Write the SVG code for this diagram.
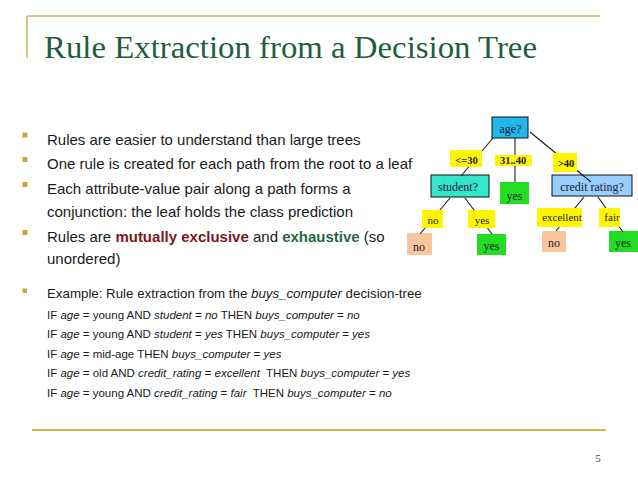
<svg xmlns="http://www.w3.org/2000/svg" width="638" height="479" viewBox="0 0 638 479">
<style>
  .rule { stroke: #D2B45E; stroke-width: 1.5; fill: none; }
  .foot { stroke: #E0B040; stroke-width: 2; fill: none; }
  .title { font-family: "Liberation Serif", serif; font-size: 32px; fill: #1E5E3C; }
  .bul { fill: #CDA63A; }
  .txt { font-family: "Liberation Sans", Arial, sans-serif; font-size: 15px; fill: #1a1a1a; }
  .ex { font-family: "Liberation Sans", Arial, sans-serif; font-size: 13.3px; fill: #1a1a1a; }
  .ifl { font-family: "Liberation Sans", Arial, sans-serif; font-size: 11.5px; fill: #1a1a1a; white-space: pre; }
  .i { font-style: italic; }
  .red { font-weight: bold; fill: #801818; }
  .grn { font-weight: bold; fill: #1F6B3F; }
  .box { stroke: #111; stroke-width: 1; }
  .lbl { fill: #FFF500; }
  .leafy { fill: #22DD22; }
  .leafn { fill: #F8C59C; }
  .t { font-family: "Liberation Serif", serif; fill: #1c2230; text-anchor: middle; }
  .tn { font-size: 12px; }
  .tl { font-size: 11px; }
  .tb { font-size: 10.5px; font-weight: bold; }
  .edge { stroke: #1a1a1a; stroke-width: 1.1; fill: none; }
  .pg { font-family: "Liberation Serif", serif; font-size: 11px; fill: #444; text-anchor: middle; }
</style>

<g id="frame">
  <path class="rule" d="M27 16 H600 M27 16 V58"/>
  <path class="foot" d="M32 430 H606"/>
</g>

<text class="title" x="44" y="58" textLength="493" lengthAdjust="spacingAndGlyphs">Rule Extraction from a Decision Tree</text>

<g id="bullets">
  <rect class="bul" x="22.5" y="132.5" width="5" height="5"/>
  <text class="txt" x="47" y="144.5">Rules are easier to understand than large trees</text>
  <rect class="bul" x="22.5" y="157" width="5" height="5"/>
  <text class="txt" x="47" y="169">One rule is created for each path from the root to a leaf</text>
  <rect class="bul" x="22.5" y="182" width="5" height="5"/>
  <text class="txt" x="47" y="194">Each attribute-value pair along a path forms a</text>
  <text class="txt" x="47" y="216.5">conjunction: the leaf holds the class prediction</text>
  <rect class="bul" x="22.5" y="230" width="5" height="5"/>
  <text class="txt" x="47" y="242">Rules are <tspan class="red">mutually exclusive</tspan> and <tspan class="grn">exhaustive</tspan> (so</text>
  <text class="txt" x="47" y="263.5">unordered)</text>
</g>

<g id="example">
  <rect class="bul" x="22.5" y="288.5" width="4.5" height="4.5"/>
  <text class="ex" x="47" y="297.5">Example: Rule extraction from the <tspan class="i">buys_computer</tspan> decision-tree</text>
  <text class="ifl" x="47" y="318.5">IF <tspan class="i">age</tspan> = young AND <tspan class="i">student</tspan> = <tspan class="i">no</tspan> THEN <tspan class="i">buys_computer</tspan> = <tspan class="i">no</tspan></text>
  <text class="ifl" x="47" y="338">IF <tspan class="i">age</tspan> = young AND <tspan class="i">student</tspan> = <tspan class="i">yes</tspan> THEN <tspan class="i">buys_computer</tspan> = <tspan class="i">yes</tspan></text>
  <text class="ifl" x="47" y="357.5">IF <tspan class="i">age</tspan> = mid-age THEN <tspan class="i">buys_computer</tspan> = <tspan class="i">yes</tspan></text>
  <text class="ifl" x="47" y="377">IF <tspan class="i">age</tspan> = old AND <tspan class="i">credit_rating</tspan> = <tspan class="i">excellent</tspan>  THEN <tspan class="i">buys_computer</tspan> = <tspan class="i">yes</tspan></text>
  <text class="ifl" x="47" y="397">IF <tspan class="i">age</tspan> = young AND <tspan class="i">credit_rating</tspan> = <tspan class="i">fair</tspan>  THEN <tspan class="i">buys_computer</tspan> = <tspan class="i">no</tspan></text>
</g>

<g id="node-age">
  <rect class="box" x="492" y="117" width="36" height="21" fill="#22B8EE"/>
  <text class="t tn" x="510.5" y="133">age?</text>
</g>
<g id="node-student">
  <rect class="box" x="431" y="175" width="58" height="22" fill="#33E6CC"/>
  <text class="t tn" x="458" y="191">student?</text>
</g>
<g id="node-credit">
  <rect class="box" x="552" y="175" width="80" height="21" fill="#99CCFF"/>
  <text class="t tn" x="592" y="191">credit rating?</text>
</g>
<g id="leaf-mid-yes">
  <rect class="leafy" x="500" y="182" width="29" height="22"/>
  <text class="t tn" x="514.5" y="200">yes</text>
</g>
<g id="leaf-student-no">
  <rect class="leafn" x="407" y="233" width="25" height="22"/>
  <text class="t tn" x="419" y="251">no</text>
</g>
<g id="leaf-student-yes">
  <rect class="leafy" x="477" y="234" width="29" height="21"/>
  <text class="t tn" x="491.5" y="250">yes</text>
</g>
<g id="leaf-excellent-no">
  <rect class="leafn" x="542" y="231" width="24" height="21"/>
  <text class="t tn" x="554" y="247">no</text>
</g>
<g id="leaf-fair-yes">
  <rect class="leafy" x="609" y="231" width="29" height="21"/>
  <text class="t tn" x="623" y="247">yes</text>
</g>

<g id="connectors">
  <line class="edge" x1="493" y1="138" x2="461" y2="176"/>
  <line class="edge" x1="515" y1="138" x2="515" y2="182"/>
  <line class="edge" x1="530" y1="132" x2="591" y2="182"/>
  <line class="edge" x1="450" y1="198" x2="420" y2="234"/>
  <line class="edge" x1="465" y1="198" x2="492" y2="234"/>
  <line class="edge" x1="584" y1="197" x2="556" y2="231"/>
  <line class="edge" x1="598" y1="197" x2="623" y2="232"/>
</g>

<g id="label-le30">
  <rect class="lbl" x="450" y="150" width="32" height="17"/>
  <text class="t tb" x="466.5" y="163.5">&lt;=30</text>
</g>
<g id="label-31-40">
  <rect class="lbl" x="495" y="155" width="37" height="11"/>
  <text class="t tb" x="513" y="164">31..40</text>
</g>
<g id="label-gt40">
  <rect class="lbl" x="553" y="153" width="24" height="19"/>
  <text class="t tb" x="566" y="166.5">&gt;40</text>
</g>
<g id="label-no">
  <rect class="lbl" x="422" y="210" width="21" height="18"/>
  <text class="t tl" x="433" y="224">no</text>
</g>
<g id="label-yes">
  <rect class="lbl" x="468" y="210" width="27" height="18"/>
  <text class="t tl" x="482" y="224">yes</text>
</g>
<g id="label-excellent">
  <rect class="lbl" x="537" y="208" width="45" height="19"/>
  <text class="t tl" x="562" y="221">excellent</text>
</g>
<g id="label-fair">
  <rect class="lbl" x="599" y="208" width="21" height="19"/>
  <text class="t tl" x="612" y="221">fair</text>
</g>

<text class="pg" x="598" y="462">5</text>
</svg>
